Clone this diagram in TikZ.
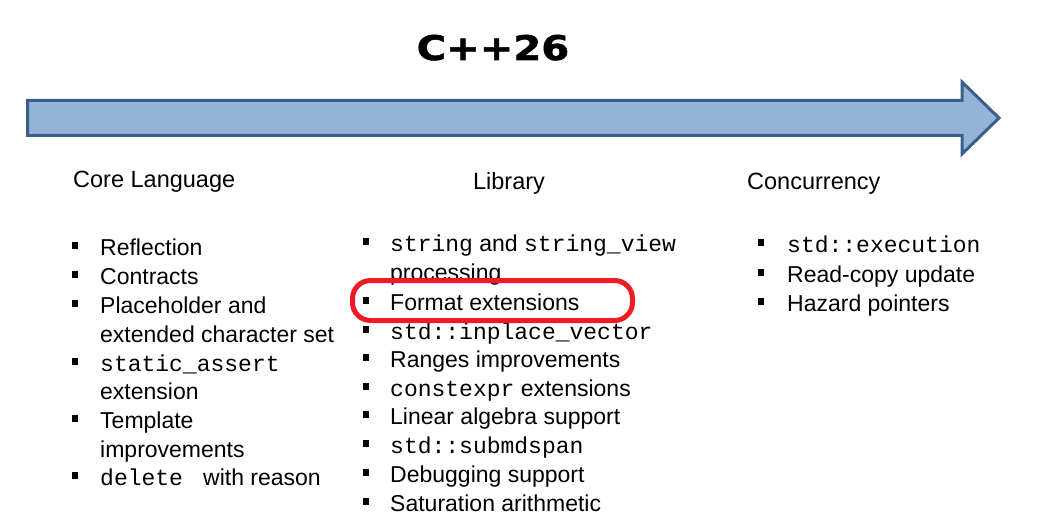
\documentclass[tikz,border=0pt]{standalone}
\usepackage{fontspec}
\setmainfont{Liberation Sans}
\setmonofont{Liberation Mono}
\newfontfamily\titlefont{DejaVu Sans}[UprightFont={* Bold},FakeStretch=1.18,FakeBold=1.6]
\newcommand\codetx[1]{{\fontsize{23}{27}\selectfont\ttfamily #1}}
\definecolor{arrowfill}{RGB}{149,179,215}
\definecolor{arrowedge}{RGB}{58,95,139}
\definecolor{markred}{RGB}{237,28,36}
\tikzset{
  heading/.style={anchor=base west, inner sep=0pt, font=\fontsize{23.5}{28}\selectfont},
  itemtx/.style={anchor=base west, inner sep=0pt, font=\fontsize{23}{27}\selectfont},
  bul/.style={fill=black, draw=none, minimum size=6.5pt, inner sep=0pt, rectangle},
  arrowshape/.style={fill=arrowfill, draw=arrowedge, line width=3pt, line join=miter},
  redbox/.style={draw=markred, line width=5pt, rounded corners=18pt},
}
\begin{document}
\begin{tikzpicture}[x=1pt, y=-1pt]
\useasboundingbox (0,0) rectangle (1052,524);
% arrow
\draw[arrowshape] (27.5,100.5) -- (962,100.5) -- (962,82) -- (999,118) -- (962,154) -- (962,135.5) -- (27.5,135.5) -- cycle;
% title
\node[anchor=base, inner sep=0pt, font=\titlefont\fontsize{34}{38}\selectfont] (title) at (493,60) {C++26};
% headings
\node[heading] (hcore) at (73,187) {Core Language};
\node[heading, anchor=base] (hlib) at (509,189) {Library};
\node[heading] (hconc) at (747,189) {Concurrency};
% left column
\node[bul] (bl1) at (75,245.5) {};
\node[itemtx] (l1) at (100,255) {Reflection};
\node[bul] (bl2) at (75,274.5) {};
\node[itemtx] (l2) at (100,284) {Contracts};
\node[bul] (bl3) at (75,303.5) {};
\node[itemtx] (l3) at (100,313) {Placeholder and};
\node[itemtx] (l3b) at (100,342) {extended character set};
\node[bul] (bl4) at (75,361.5) {};
\node[itemtx] (l4) at (100,371) {\codetx{static\_assert}};
\node[itemtx] (l4b) at (100,399) {extension};
\node[bul] (bl5) at (75,418.5) {};
\node[itemtx] (l5) at (100,428) {Template};
\node[itemtx] (l5b) at (100,457) {improvements};
\node[bul] (bl6) at (75,475.5) {};
\node[itemtx] (l6) at (100,485) {\codetx{delete\ } with reason};
% middle column
\node[bul] (bm1) at (366,241.5) {};
\node[itemtx] (m1) at (390,251) {\codetx{string} and \codetx{string\_view}};
\node[itemtx] (m1b) at (390,280) {processing};
\node[bul] (bm2) at (366,300.5) {};
\node[itemtx] (m2) at (390,310) {Format extensions};
\node[bul] (bm3) at (366,329.5) {};
\node[itemtx] (m3) at (390,339) {\codetx{std::inplace\_vector}};
\node[bul] (bm4) at (366,357.5) {};
\node[itemtx] (m4) at (390,367) {Ranges improvements};
\node[bul] (bm5) at (366,386.5) {};
\node[itemtx] (m5) at (390,396) {\codetx{constexpr} extensions};
\node[bul] (bm6) at (366,414.5) {};
\node[itemtx] (m6) at (390,424) {Linear algebra support};
\node[bul] (bm7) at (366,443.5) {};
\node[itemtx] (m7) at (390,453) {\codetx{std::submdspan}};
\node[bul] (bm8) at (366,472.5) {};
\node[itemtx] (m8) at (390,482) {Debugging support};
\node[bul] (bm9) at (366,501.5) {};
\node[itemtx] (m9) at (390,511) {Saturation arithmetic};
% right column
\node[bul] (br1) at (761,242.5) {};
\node[itemtx] (r1) at (787,252) {\codetx{std::execution}};
\node[bul] (br2) at (761,272.5) {};
\node[itemtx] (r2) at (787,282) {Read-copy update};
\node[bul] (br3) at (761,301.5) {};
\node[itemtx] (r3) at (787,311) {Hazard pointers};
% red highlight
\draw[redbox] (352.5,280.5) rectangle (632.5,320.5);
\end{tikzpicture}
\end{document}
